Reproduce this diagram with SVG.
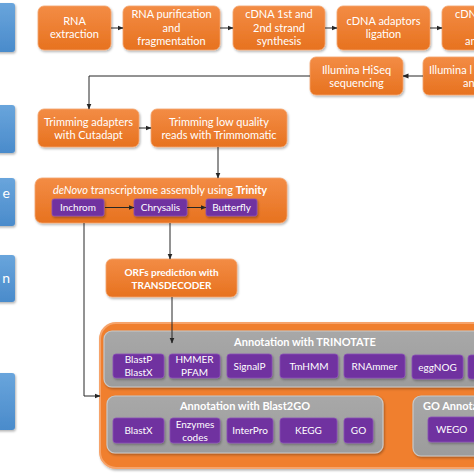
<svg xmlns="http://www.w3.org/2000/svg" width="474" height="474" viewBox="0 0 474 474">
<defs>
<linearGradient id="gOr" x1="0" y1="0" x2="0" y2="1"><stop offset="0" stop-color="#F38C45"/><stop offset="1" stop-color="#E7721F"/></linearGradient>
<linearGradient id="gBl" x1="0" y1="0" x2="0" y2="1"><stop offset="0" stop-color="#69A5DC"/><stop offset="1" stop-color="#4A8BCB"/></linearGradient>
<linearGradient id="gGr" x1="0" y1="0" x2="0" y2="1"><stop offset="0" stop-color="#A8A8A8"/><stop offset="1" stop-color="#9C9C9C"/></linearGradient>
<filter id="sh" x="-10%" y="-10%" width="130%" height="140%"><feDropShadow dx="1" dy="1.5" stdDeviation="1.2" flood-color="#000" flood-opacity="0.3"/></filter>
<marker id="ar" viewBox="0 0 6 6" refX="5.5" refY="3" markerWidth="6" markerHeight="6" markerUnits="userSpaceOnUse" orient="auto"><path d="M0,0.5 L6,3 L0,5.5 Z" fill="#262626"/></marker>
</defs>
<style>
.or{fill:url(#gOr);stroke:#F4A46E;stroke-width:0.8;filter:url(#sh)}
.bl{fill:url(#gBl);filter:url(#sh)}
.gr{fill:url(#gGr);stroke:#C8C8C8;stroke-width:1.2;filter:url(#sh)}
.pu{fill:#7030A0;stroke:#8C52B8;stroke-width:0.8;filter:url(#sh)}
.big{fill:#F07F2D;stroke:#F6A36A;stroke-width:2;filter:url(#sh)}
text{font-family:Lato,"Open Sans","Liberation Sans",sans-serif;fill:#fff;text-anchor:middle}
.t{font-size:11px}
.p{font-size:10px}
.b{font-weight:bold}
.bt{font-size:14px;text-anchor:end}
.c{fill:none;stroke:#262626;stroke-width:1;marker-end:url(#ar)}
</style>

<g id="side">
<rect class="bl" x="-10" y="3" width="25" height="49" rx="3"/>
<rect class="bl" x="-10" y="105" width="25" height="48" rx="3"/>
<rect class="bl" x="-10" y="178" width="25" height="48" rx="3"/>
<text class="bt" x="10" y="198">e</text>
<rect class="bl" x="-10" y="255" width="25" height="47" rx="3"/>
<text class="bt" x="10" y="283">n</text>
<rect class="bl" x="-10" y="373" width="25" height="57" rx="3"/>
</g>

<g id="n-rna-extraction"><rect class="or" x="38" y="6" width="73" height="44" rx="6"/>
<text class="t" x="74.5" y="25">RNA</text><text class="t" x="74.5" y="38">extraction</text></g>

<g id="n-rna-purification"><rect class="or" x="123" y="6" width="97" height="44" rx="6"/>
<text class="t" x="171.5" y="18">RNA purification</text><text class="t" x="171.5" y="31.5">and</text><text class="t" x="171.5" y="45">fragmentation</text></g>

<g id="n-cdna-synthesis"><rect class="or" x="233" y="6" width="92" height="44" rx="6"/>
<text class="t" x="279" y="18">cDNA 1st and</text><text class="t" x="279" y="31.5">2nd strand</text><text class="t" x="279" y="45">synthesis</text></g>

<g id="n-cdna-ligation"><rect class="or" x="337" y="6" width="93" height="44" rx="6"/>
<text class="t" x="383.5" y="25">cDNA adaptors</text><text class="t" x="383.5" y="38">ligation</text></g>

<g id="n-cdna-next"><rect class="or" x="442" y="6" width="60" height="44" rx="6"/>
<text class="t" x="455" y="18" style="text-anchor:start">cDNA</text><text class="t" x="465" y="45" style="text-anchor:start">and</text></g>

<g id="n-illumina-lib"><rect class="or" x="423" y="57" width="80" height="38" rx="6"/>
<text class="t" x="429" y="74" style="text-anchor:start">Illumina l</text><text class="t" x="463" y="87" style="text-anchor:start">and</text></g>

<g id="n-hiseq"><rect class="or" x="310" y="57" width="93" height="38" rx="6"/>
<text class="t" x="356.5" y="74">Illumina HiSeq</text><text class="t" x="356.5" y="87">sequencing</text></g>

<g id="n-cutadapt"><rect class="or" x="38" y="109" width="101" height="38" rx="6"/>
<text class="t" x="88.5" y="126">Trimming adapters</text><text class="t" x="88.5" y="139">with Cutadapt</text></g>

<g id="n-trimmomatic"><rect class="or" x="151" y="109" width="136" height="38" rx="6"/>
<text class="t" x="219" y="126">Trimming low quality</text><text class="t" x="219" y="139">reads with Trimmomatic</text></g>

<g id="n-trinity"><rect class="or" x="35" y="178" width="252" height="45" rx="7"/>
<text class="t" x="160" y="193.5"><tspan font-style="italic">deNovo</tspan> transcriptome assembly using <tspan font-weight="bold">Trinity</tspan></text>
<rect class="pu" x="52" y="199" width="52" height="17" rx="2"/><text class="p" x="78" y="211">Inchrom</text>
<rect class="pu" x="134" y="199" width="53" height="17" rx="2"/><text class="p" x="160.5" y="211">Chrysalis</text>
<rect class="pu" x="206" y="199" width="51" height="17" rx="2"/><text class="p" x="231.5" y="211">Butterfly</text>
</g>

<g id="n-orfs"><rect class="or" x="106" y="259" width="131" height="38" rx="6"/>
<text class="p b" x="171.5" y="276">ORFs prediction with</text><text class="p b" x="171.5" y="289">TRANSDECODER</text></g>

<g id="n-annotation">
<rect class="big" x="100" y="323" width="400" height="145" rx="16"/>
<g id="n-trinotate">
<rect class="gr" x="104" y="331" width="400" height="56" rx="8"/>
<text class="t b" x="305" y="346">Annotation with TRINOTATE</text>
<rect class="pu" x="113" y="354" width="51" height="24" rx="3"/><text class="p" x="138.5" y="363">BlastP</text><text class="p" x="138.5" y="375.5">BlastX</text>
<rect class="pu" x="169" y="354" width="51" height="24" rx="3"/><text class="p" x="194.5" y="363">HMMER</text><text class="p" x="194.5" y="375.5">PFAM</text>
<rect class="pu" x="227" y="354" width="45" height="24" rx="3"/><text class="p" x="249.5" y="369.5">SignalP</text>
<rect class="pu" x="280" y="354" width="58" height="24" rx="3"/><text class="p" x="309" y="369.5">TmHMM</text>
<rect class="pu" x="344" y="354" width="61" height="24" rx="3"/><text class="p" x="374.5" y="369.5">RNAmmer</text>
<rect class="pu" x="412" y="355" width="51" height="24" rx="3"/><text class="p" x="437.5" y="370.5">eggNOG</text>
<rect class="pu" x="468" y="355" width="30" height="24" rx="3"/>
</g>
<g id="n-blast2go">
<rect class="gr" x="107" y="396" width="276" height="57" rx="8"/>
<text class="t b" x="245" y="410">Annotation with Blast2GO</text>
<rect class="pu" x="113" y="418" width="51" height="25" rx="3"/><text class="p" x="138.5" y="434">BlastX</text>
<rect class="pu" x="170" y="418" width="50" height="25" rx="3"/><text class="p" x="195" y="428">Enzymes</text><text class="p" x="195" y="440.5">codes</text>
<rect class="pu" x="227" y="418" width="46" height="25" rx="3"/><text class="p" x="250" y="434">InterPro</text>
<rect class="pu" x="280" y="418" width="57" height="25" rx="3"/><text class="p" x="308.5" y="434">KEGG</text>
<rect class="pu" x="344" y="418" width="29" height="25" rx="3"/><text class="p" x="358.5" y="434">GO</text>
</g>
<g id="n-go-annotation">
<rect class="gr" x="413" y="396" width="90" height="60" rx="8"/>
<text class="t b" x="423" y="410" style="text-anchor:start">GO Annotation</text>
<rect class="pu" x="428" y="417" width="70" height="25" rx="3"/><text class="p" x="436" y="433" style="text-anchor:start">WEGO</text>
</g>
</g>

<g id="connectors">
<path class="c" d="M111,28 H123"/>
<path class="c" d="M220,28 H233"/>
<path class="c" d="M325,28 H337"/>
<path class="c" d="M430,28 H442"/>
<path class="c" d="M423,76 H403"/>
<path class="c" d="M310,76 H89 V109"/>
<path class="c" d="M139,128 H151"/>
<path class="c" d="M218,147 V178"/>
<path class="c" d="M105,207.5 H134"/>
<path class="c" d="M187,207.5 H206"/>
<path class="c" d="M170,223 V259"/>
<path class="c" d="M84,223 V396 H100"/>
<path class="c" d="M172,297 V343"/>
</g>
</svg>
